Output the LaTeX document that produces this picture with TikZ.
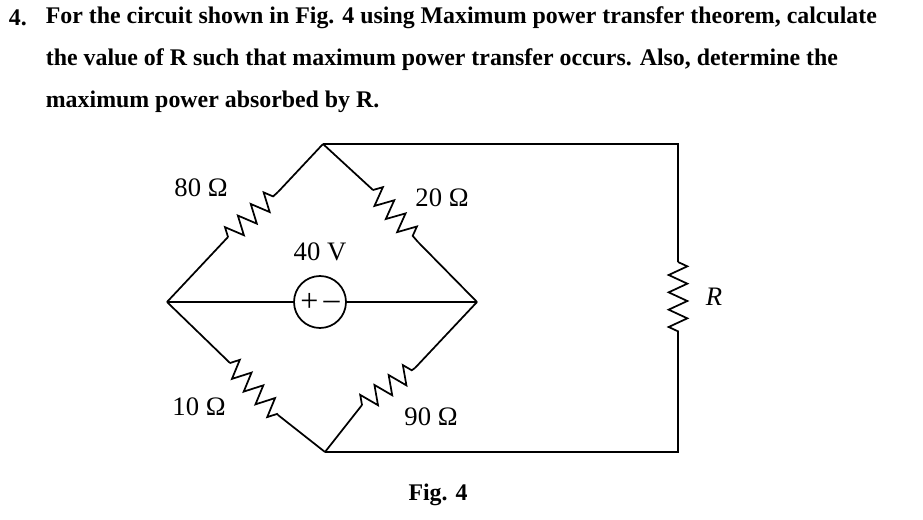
\documentclass[tikz,border=0pt]{standalone}
\usepackage{fontspec}
\setmainfont{Liberation Serif}
\usetikzlibrary{decorations.pathmorphing}
\begin{document}
\begin{tikzpicture}[x=0.75pt,y=-0.75pt,line width=1.3pt,
  txt/.style={font=\fontsize{17.9pt}{20pt}\selectfont\bfseries,anchor=west,inner sep=0},
  lbl/.style={font=\fontsize{20pt}{22pt}\selectfont,inner sep=0},
  res/.style={decorate,decoration={zigzag,segment length=13pt,amplitude=7pt}}]
\useasboundingbox (0,0) rectangle (923,520);
\node[txt] (n4) at (8,18) {4.};
\node[txt] (l1) at (45,18) {For the circuit shown in Fig. 4 using Maximum power transfer theorem, calculate};
\node[txt] (l2) at (45,60) {the value of R such that maximum power transfer occurs. Also, determine the};
\node[txt] (l3) at (45,102) {maximum power absorbed by R.};
\coordinate (T) at (323,144);
\coordinate (L) at (167,302);
\coordinate (Rt) at (477,302);
\coordinate (B) at (325,452);
\coordinate (TR) at (678,144);
\coordinate (BR) at (678,452);
\coordinate (a1) at (228,237); \coordinate (a2) at (278,192);
\coordinate (b1) at (373,190); \coordinate (b2) at (418,242);
\coordinate (c1) at (230,363); \coordinate (c2) at (278,415);
\coordinate (d1) at (362,405); \coordinate (d2) at (415,368);
\coordinate (r1) at (678,262); \coordinate (r2) at (678,336);
\node[draw,circle,minimum size=52*0.75pt,inner sep=0,font=\fontsize{24pt}{24pt}\selectfont] (src) at (320,302) {+\,\raisebox{1pt}{--}};
\draw (L) -- (a1); \draw[res] (a1) -- (a2); \draw (a2) -- (T);
\draw (T) -- (b1); \draw[res] (b1) -- (b2); \draw (b2) -- (Rt);
\draw (L) -- (c1); \draw[res] (c1) -- (c2); \draw (c2) -- (B);
\draw (B) -- (d1); \draw[res] (d1) -- (d2); \draw (d2) -- (Rt);
\draw (L) -- (src); \draw (src) -- (Rt);
\draw (T) -- (TR) -- (r1); \draw[res] (r1) -- (r2); \draw (r2) -- (BR) -- (B);
\node[lbl] (k80) at (201,188) {80 Ω};
\node[lbl] (k20) at (442,198) {20 Ω};
\node[lbl] (k40) at (320,252) {40 V};
\node[lbl] (k10) at (199,407) {10 Ω};
\node[lbl] (k90) at (431,417) {90 Ω};
\node[lbl] (kR) at (714,297) {\textit{R}};
\node[txt,anchor=center] (fig) at (438,495) {Fig. 4};
\end{tikzpicture}
\end{document}
